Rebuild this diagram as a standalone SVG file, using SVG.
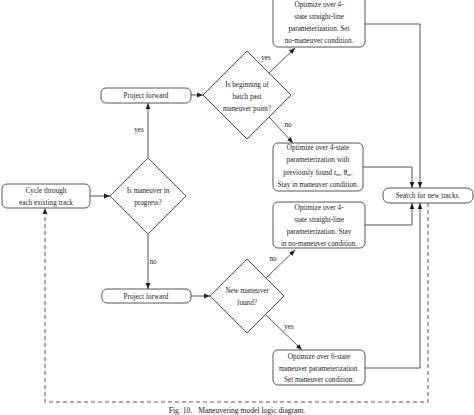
<svg xmlns="http://www.w3.org/2000/svg" width="474" height="415" viewBox="0 0 474 415">
<defs>
<marker id="ah" markerUnits="userSpaceOnUse" markerWidth="6" markerHeight="6" viewBox="0 0 6 6" refX="6" refY="3" orient="auto">
<path d="M0,0.6 L6,3 L0,5.4 Z" fill="#222"/>
</marker>
<style>
.n{fill:#fff;stroke:#444;stroke-width:0.9}
.t{font-family:"Liberation Serif","Times New Roman",serif;font-size:7.2px;fill:#222;text-anchor:middle}
.c{fill:none;stroke:#444;stroke-width:0.9}
.a{marker-end:url(#ah)}
.d{stroke-dasharray:4 3}
</style>
</defs>
<rect width="474" height="415" fill="#fff"/>
<g id="connectors">
<path class="c a" d="M90,196 H110"/>
<path class="c a" d="M148,158 V103"/>
<text class="t" x="139" y="132">yes</text>
<path class="c a" d="M191,95 H203"/>
<path class="c a" d="M269,73 L295,48"/>
<text class="t" x="266" y="60">yes</text>
<path class="c a" d="M269,117 L293,143"/>
<text class="t" x="288" y="127">no</text>
<path class="c a" d="M365,24 H420 V188"/>
<path class="c a" d="M363,167 H412 V188"/>
<path class="c a" d="M148,234 V289"/>
<text class="t" x="153" y="264">no</text>
<path class="c a" d="M191,296 H210"/>
<path class="c a" d="M266,278 L295,250"/>
<text class="t" x="273" y="261">no</text>
<path class="c a" d="M266,315 L302,350"/>
<text class="t" x="289" y="329">yes</text>
<path class="c a" d="M365,225 H412 V203"/>
<path class="c a" d="M365,368 H420 V203"/>
<path class="c a d" d="M428,203 V402 H45 V208"/>
</g>
<g id="cycle">
<rect class="n" x="2" y="184" width="88" height="24" rx="5"/>
<text class="t" x="46" y="192.5">Cycle through</text>
<text class="t" x="46" y="205">each existing track</text>
</g>
<g id="inprogress">
<polygon class="n" points="148,158 186,196 148,234 110,196"/>
<text class="t" x="148" y="192.5">Is maneuver in</text>
<text class="t" x="148" y="205">progress?</text>
</g>
<g id="project1">
<rect class="n" x="101" y="88" width="90" height="15" rx="5"/>
<text class="t" x="146" y="98">Project forward</text>
</g>
<g id="batchpast">
<polygon class="n" points="247,51 291,95 247,139 203,95"/>
<text class="t" x="247" y="86.5">Is beginning of</text>
<text class="t" x="247" y="98.5">batch past</text>
<text class="t" x="247" y="110.5">maneuver point?</text>
</g>
<g id="opt4sl">
<rect class="n" x="273" y="-4" width="92" height="51" rx="5"/>
<text class="t" x="319" y="7">Optimize over 4-</text>
<text class="t" x="319" y="19">state straight-line</text>
<text class="t" x="319" y="31">parameterization. Set</text>
<text class="t" x="319" y="43">no-maneuver condition.</text>
</g>
<g id="opt4prev">
<rect class="n" x="273" y="143" width="90" height="48" rx="5"/>
<text class="t" x="318" y="150">Optimize over 4-state</text>
<text class="t" x="318" y="162">parameterization with</text>
<text class="t" x="318" y="174.5">previously found <tspan font-style="italic">t</tspan><tspan font-size="5" dy="1.5">m</tspan><tspan dy="-1.5">, </tspan><tspan font-style="italic">θ</tspan><tspan font-size="5" dy="1.5">m</tspan><tspan dy="-1.5">.</tspan></text>
<text class="t" x="318" y="186.5">Stay in maneuver condition.</text>
</g>
<g id="search">
<rect class="n" x="383" y="188" width="90" height="15" rx="6"/>
<text class="t" x="428" y="198">Search for new tracks.</text>
</g>
<g id="opt4stay">
<rect class="n" x="273" y="202" width="92" height="46" rx="5"/>
<text class="t" x="319" y="209.5">Optimize over 4-</text>
<text class="t" x="319" y="221.5">state straight-line</text>
<text class="t" x="319" y="233.5">parameterization. Stay</text>
<text class="t" x="319" y="245.5">in no-maneuver condition.</text>
</g>
<g id="project2">
<rect class="n" x="102" y="289" width="89" height="14" rx="5"/>
<text class="t" x="146" y="298.5">Project forward</text>
</g>
<g id="newman">
<polygon class="n" points="247,259 284,296 247,333 210,296"/>
<text class="t" x="247" y="292.5">New maneuver</text>
<text class="t" x="247" y="305">found?</text>
</g>
<g id="opt6">
<rect class="n" x="273" y="350" width="92" height="35" rx="5"/>
<text class="t" x="319" y="358.5">Optimize over 6-state</text>
<text class="t" x="319" y="370.5">maneuver parameterization.</text>
<text class="t" x="319" y="382">Set maneuver condition.</text>
</g>
<text class="t" x="237" y="412.5" style="font-size:7.6px">Fig. 10.<tspan dx="6">Maneuvering model logic diagram.</tspan></text>
</svg>
